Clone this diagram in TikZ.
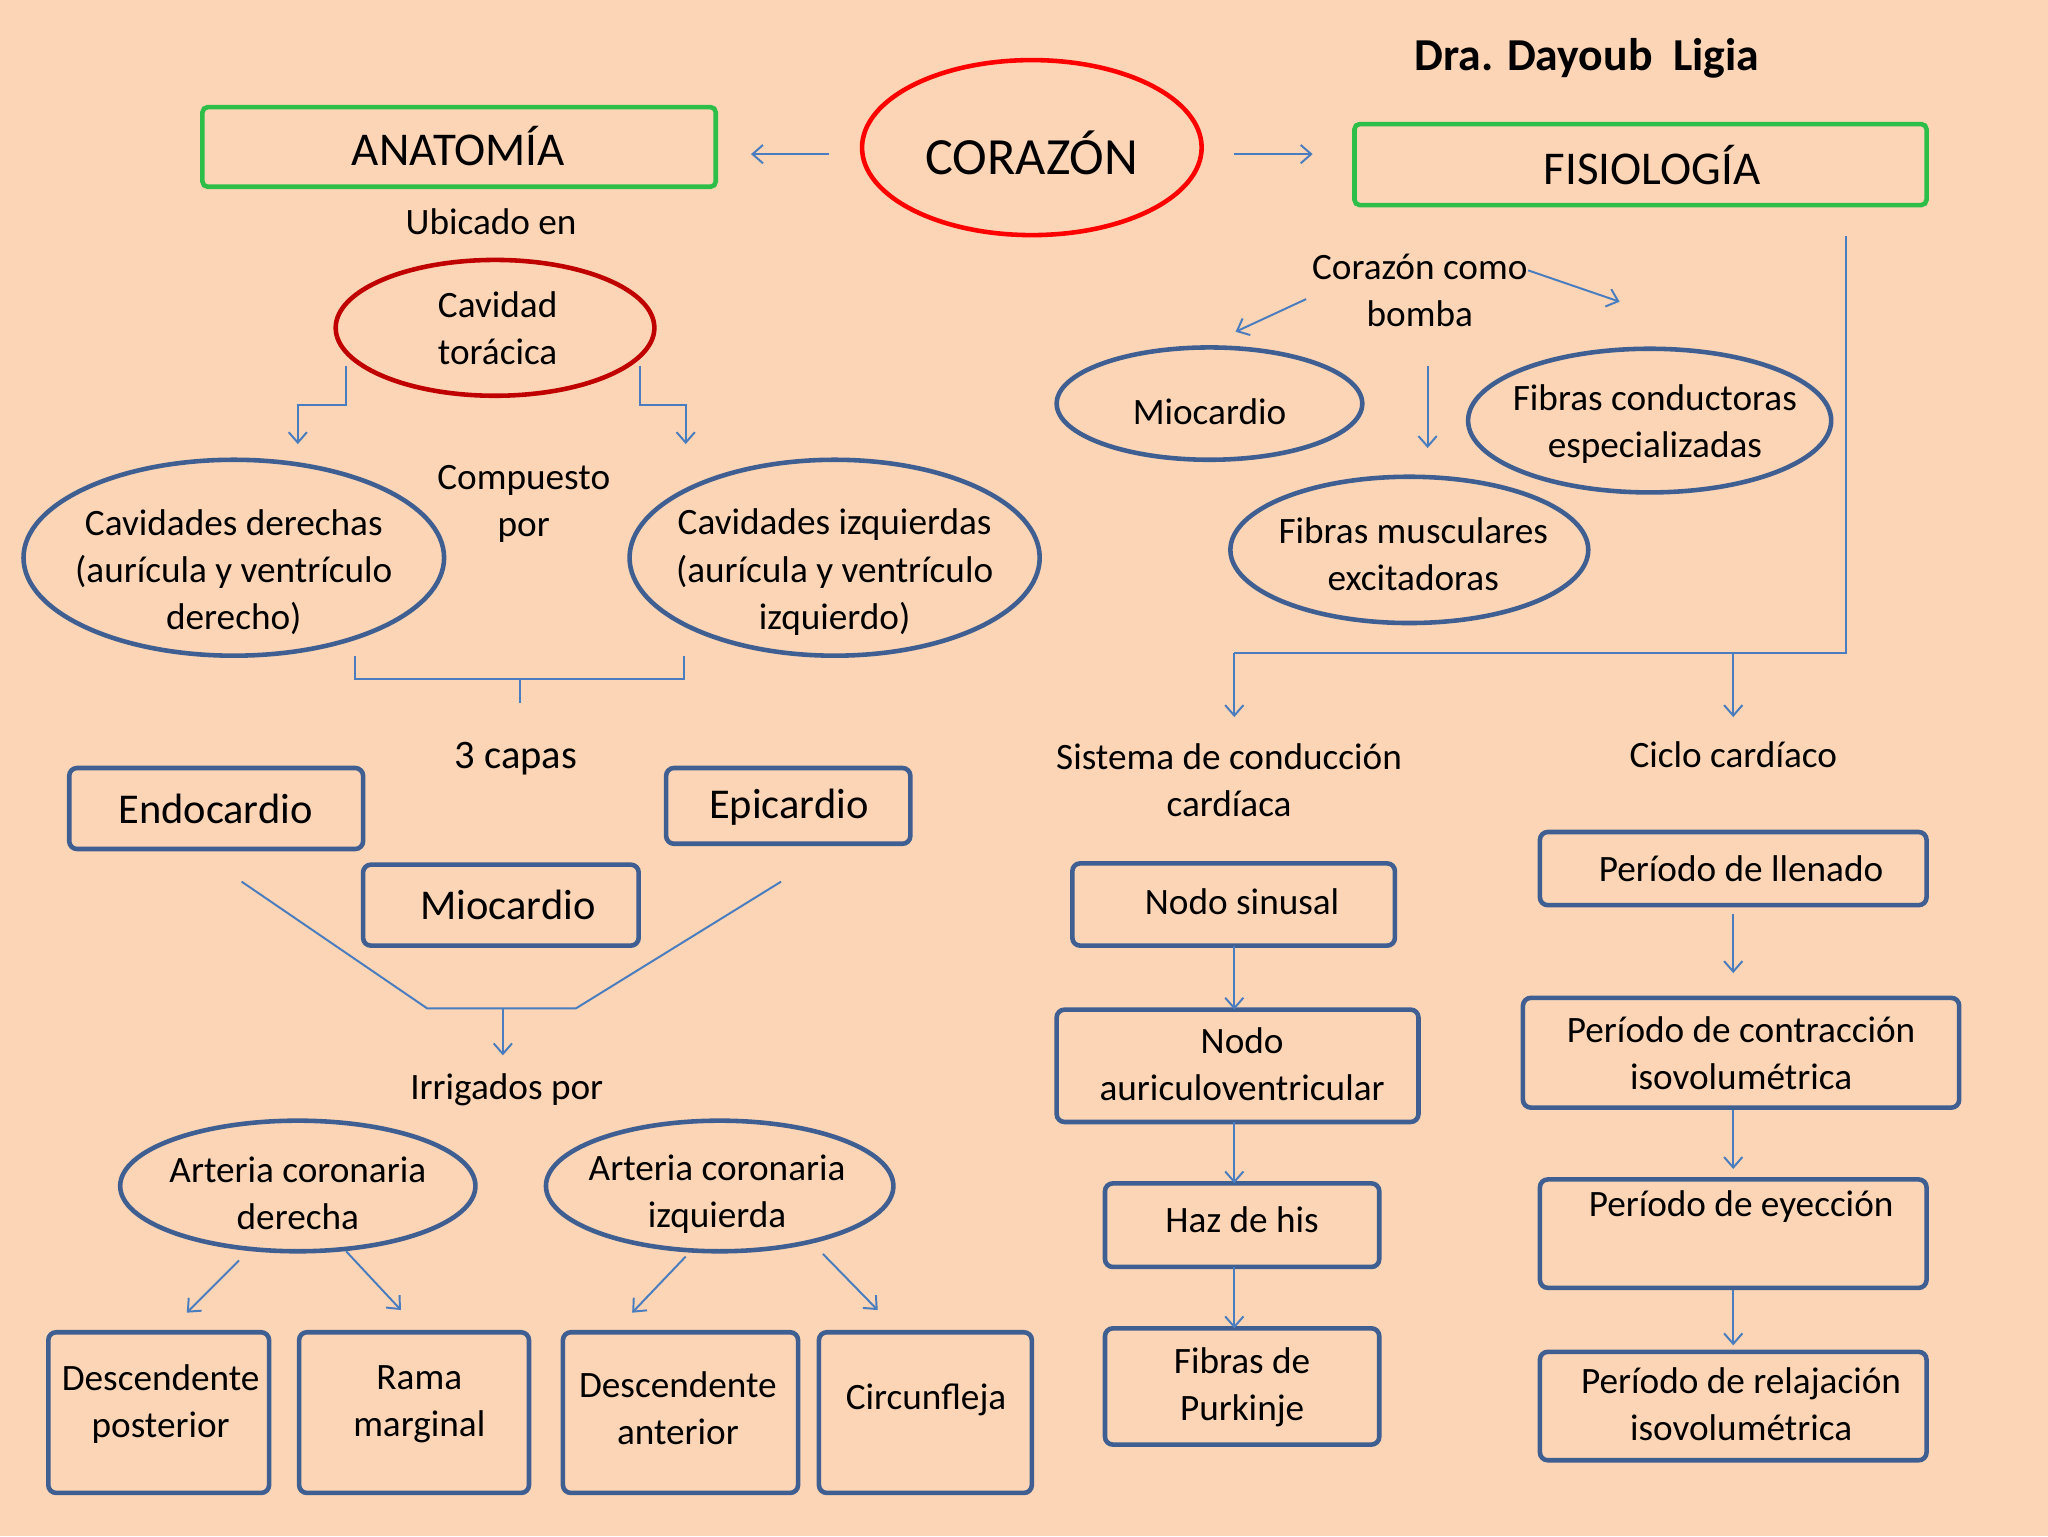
\documentclass[tikz,border=0pt]{standalone}
\usepackage{fontspec}
\setmainfont{Carlito}
\usetikzlibrary{arrows.meta}
\definecolor{bg}{HTML}{FBD5B5}
\definecolor{nb}{HTML}{3F5E92}
\definecolor{lb}{HTML}{4A7CC0}
\definecolor{gr}{HTML}{2DBE4A}
\definecolor{dr}{HTML}{C00000}
\begin{document}
\begin{tikzpicture}[x=1pt,y=-1pt,
 txt/.style={font=\fontsize{28.5}{36}\selectfont,align=center,text=black},
 big/.style={font=\fontsize{32.5}{36}\selectfont},
 box/.style={draw=nb,line width=3.5pt,rounded corners=6pt},
 ar/.style={draw=lb,line width=1.5pt,-{Straight Barb[length=8pt,width=14pt]}},
 ln/.style={draw=lb,line width=1.5pt}]
\fill[bg] (0,0) rectangle (1568,1176);
\useasboundingbox (0,0) rectangle (1568,1176);
% header
\draw[red,line width=3.5pt] (790,113) ellipse [x radius=130,y radius=67];
\node[txt,font=\fontsize{40}{40}\selectfont] (cor) at (790,117) {CORAZÓN};
\draw[gr,line width=3.5pt,rounded corners=4pt] (155,82) rectangle (548,143);
\node[txt,font=\fontsize{36}{40}\selectfont] (ana) at (351,112) {ANATOMÍA};
\draw[gr,line width=3.5pt,rounded corners=4pt] (1037,95) rectangle (1475,157);
\node[txt,font=\fontsize{36}{40}\selectfont] (fis) at (1265,126) {FISIOLOGÍA};
\node[txt,font=\fontsize{35}{40}\selectfont\bfseries] (dra) at (1215,45) {Dra. Dayoub\ \ Ligia};
\coordinate (a1) at (635,118); \coordinate (a2) at (575,118);
\coordinate (a3) at (945,118); \coordinate (a4) at (1005,118);
\draw[ar] (a1)--(a2); \draw[ar] (a3)--(a4);
% anatomy
\node[txt] (ub) at (376,170) {Ubicado en};
\draw[dr,line width=3.5pt] (379,251) ellipse [x radius=122,y radius=52];
\node[txt] (ct) at (381,251) {Cavidad\\torácica};
\draw[ar] (265,280)--(265,310)--(228,310)--(228,340);
\draw[ar] (490,280)--(490,310)--(525,310)--(525,340);
\node[txt] (cp) at (401,386) {Compuesto\\por};
\draw[nb,line width=3.5pt] (179,427) ellipse [x radius=161,y radius=75];
\node[txt] (cd) at (179,438) {Cavidades derechas\\(aurícula y ventrículo\\derecho)};
\draw[nb,line width=3.5pt] (639,427) ellipse [x radius=157,y radius=75];
\node[txt] (ci) at (639,438) {Cavidades izquierdas\\(aurícula y ventrículo\\izquierdo)};
\draw[ln] (272,502)--(272,520)--(524,520)--(524,502);
\draw[ln] (398,520)--(398,538);
\node[txt,font=\fontsize{31}{36}\selectfont] (tc) at (395,581) {3 capas};
\draw[box] (53,588) rectangle (278,650); \node[txt,big] (en) at (165,619) {Endocardio};
\draw[box] (510,588) rectangle (697,646); \node[txt,big] (ep) at (604,618) {Epicardio};
\draw[box] (278,662) rectangle (489,724); \node[txt,big] (mi) at (389,693) {Miocardio};
\draw[ln] (185,675)--(327,772)--(441,772)--(598,675);
\draw[ar] (385,772)--(385,808);
\node[txt] (ir) at (388,834) {Irrigados por};
\draw[nb,line width=3.5pt] (228,908) ellipse [x radius=136,y radius=50];
\node[txt] (acd) at (228,914) {Arteria coronaria\\derecha};
\draw[nb,line width=3.5pt] (551,908) ellipse [x radius=133,y radius=50];
\node[txt] (aci) at (549,914) {Arteria coronaria\\izquierda};
\draw[ar] (183,965)--(143,1005); \draw[ar] (265,958)--(307,1003);
\draw[ar] (525,962)--(484,1005); \draw[ar] (630,960)--(672,1003);
\draw[box] (37,1020) rectangle (206,1143); \node[txt] (dp) at (123,1075) {Descendente\\posterior};
\draw[box] (229,1020) rectangle (405,1143); \node[txt] (rm) at (321,1075) {Rama\\marginal};
\draw[box] (431,1020) rectangle (611,1143); \node[txt] (da) at (519,1078) {Descendente\\anterior};
\draw[box] (627,1020) rectangle (790,1143); \node[txt] (cf) at (709,1072) {Circunfleja};
% physiology
\node[txt] (cb) at (1087,222) {Corazón como\\bomba};
\draw[ar] (1000,229)--(946,254); \draw[ar] (1170,207)--(1240,231); \draw[ar] (1093,280)--(1093,343);
\draw[nb,line width=3.5pt] (926,309) ellipse [x radius=117,y radius=43];
\node[txt] (mc) at (926,315) {Miocardio};
\draw[nb,line width=3.5pt] (1263,322) ellipse [x radius=139,y radius=55];
\node[txt] (fc) at (1267,325) {Fibras conductoras\\especializadas};
\draw[nb,line width=3.5pt] (1079,421) ellipse [x radius=137,y radius=56];
\node[txt] (fm) at (1082,424) {Fibras musculares\\excitadoras};
\draw[ln] (1413,181)--(1413,500)--(945,500);
\draw[ar] (945,500)--(945,549); \draw[ar] (1327,500)--(1327,549);
\node[txt] (sc) at (941,597) {Sistema de conducción\\cardíaca};
\node[txt] (cc) at (1327,578) {Ciclo cardíaco};
\draw[box] (821,661) rectangle (1068,724); \node[txt] (ns) at (951,690) {Nodo sinusal};
\draw[box] (809,773) rectangle (1086,859); \node[txt] (nav) at (951,815) {Nodo\\auriculoventricular};
\draw[box] (846,906) rectangle (1056,970); \node[txt] (hh) at (951,934) {Haz de his};
\draw[box] (846,1017) rectangle (1056,1106); \node[txt] (fp) at (951,1062) {Fibras de\\Purkinje};
\draw[ar] (945,724)--(945,773); \draw[ar] (945,859)--(945,906); \draw[ar] (945,970)--(945,1017);
\draw[box] (1179,637) rectangle (1475,693); \node[txt] (p1) at (1333,665) {Período de llenado};
\draw[box] (1166,764) rectangle (1500,848); \node[txt] (p2) at (1333,806) {Período de contracción\\isovolumétrica};
\draw[box] (1179,903) rectangle (1475,986); \node[txt] (p3) at (1333,924) {Período de eyección};
\draw[box] (1179,1035) rectangle (1475,1118); \node[txt] (p4) at (1333,1075) {Período de relajación\\isovolumétrica};
\draw[ar] (1327,700)--(1327,745); \draw[ar] (1327,850)--(1327,895); \draw[ar] (1327,988)--(1327,1030);
\end{tikzpicture}
\end{document}
